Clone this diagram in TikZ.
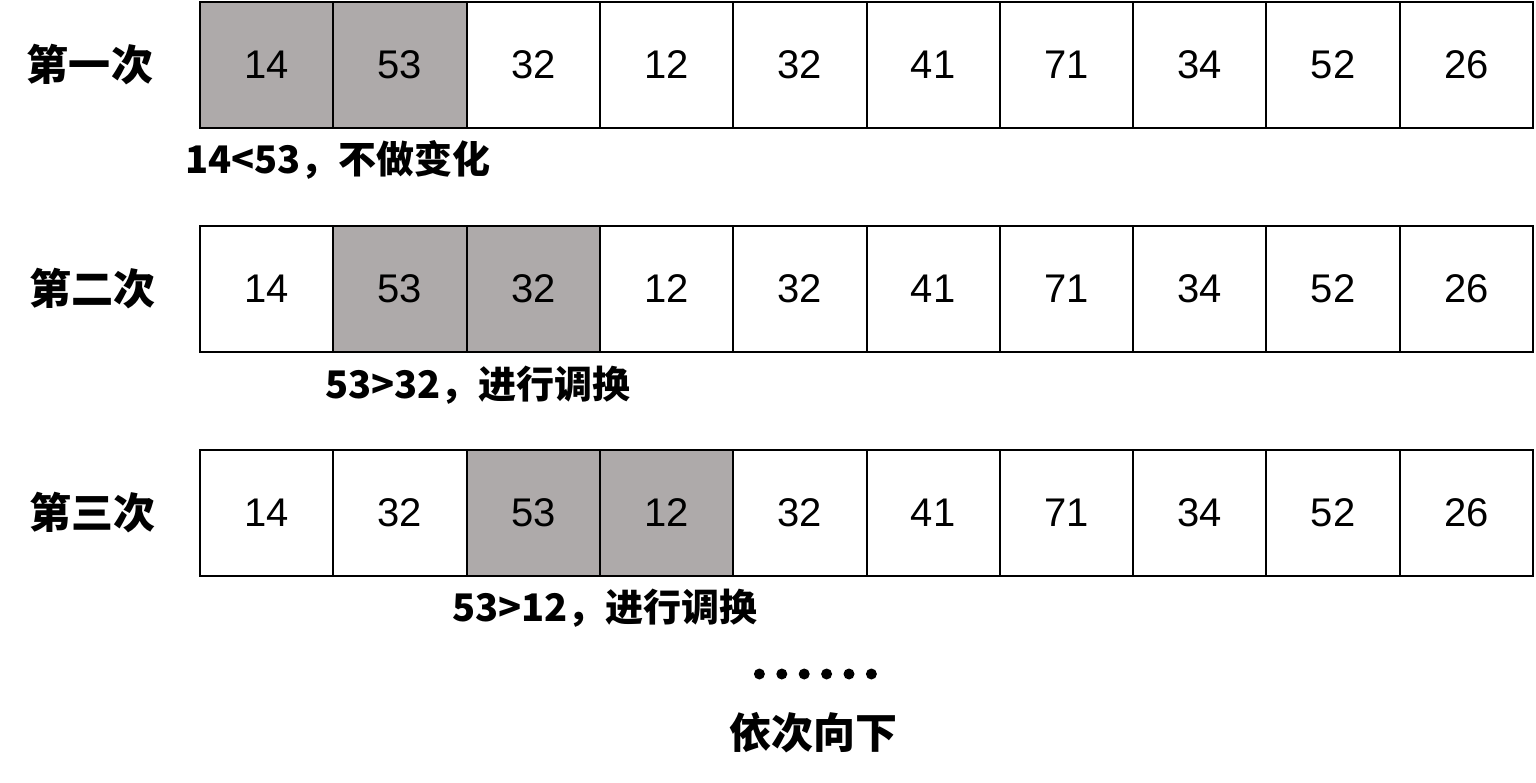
\documentclass[tikz,border=0pt]{standalone}
\usepackage{fontspec}
\setmainfont{Liberation Sans}
\newfontfamily\cjk{Noto Sans CJK SC}
\definecolor{cellgray}{HTML}{AEAAAA}
\tikzset{
	cell/.style={draw,line width=2pt,fill=white,minimum width=133.3pt,minimum height=126pt,inner sep=0pt,font=\fontsize{40}{46}\selectfont},
	hot/.style={cell,fill=cellgray},
	pass/.style={font=\cjk\bfseries\fontsize{42}{48}\selectfont},
	note/.style={font=\cjk\bfseries\fontsize{38}{44}\selectfont},
	bullet/.style={circle,fill=black,inner sep=0pt,minimum size=11pt}
}

\begin{document}
\begin{tikzpicture}[x=1pt,y=-1pt]
	\useasboundingbox (0,0) rectangle (1536,783);
	% first pass
	\node[pass] (lab1) at (90,65) {第一次};
	\foreach \v/\f [count=\i] in {14/hot,53/hot,32/cell,12/cell,32/cell,41/cell,71/cell,34/cell,52/cell,26/cell}
		\node[\f] (a\i) at ({133.3*\i+133.35},65) {\v};
	\node[note] (note1) at (338,160) {14<53，不做变化};
	% second pass
	\node[pass] (lab2) at (92,289) {第二次};
	\foreach \v/\f [count=\i] in {14/cell,53/hot,32/hot,12/cell,32/cell,41/cell,71/cell,34/cell,52/cell,26/cell}
		\node[\f] (b\i) at ({133.3*\i+133.35},289) {\v};
	\node[note] (note2) at (478,385) {53>32，进行调换};
	% third pass
	\node[pass] (lab3) at (92,513) {第三次};
	\foreach \v/\f [count=\i] in {14/cell,32/cell,53/hot,12/hot,32/cell,41/cell,71/cell,34/cell,52/cell,26/cell}
		\node[\f] (c\i) at ({133.3*\i+133.35},513) {\v};
	\node[note] (note3) at (605,608) {53>12，进行调换};
	% and so on
	\foreach \i in {1,...,6}
		\node[bullet] (dot\i) at ({737+22.4*\i},674) {};
	\node[pass] (last) at (813,733) {依次向下};
\end{tikzpicture}
\end{document}
